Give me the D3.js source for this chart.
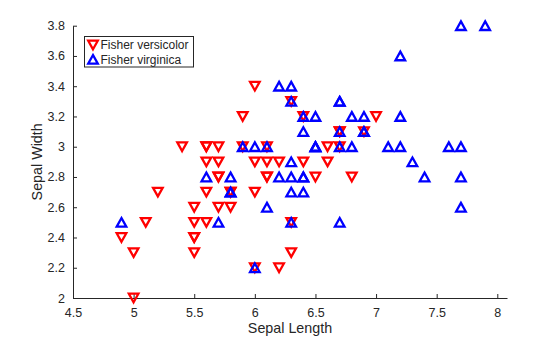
<!DOCTYPE html>
<html>
<head>
<meta charset="utf-8">
<script src="https://cdn.jsdelivr.net/npm/d3@7"></script>
<style>
  body { margin: 0; background: #fff; }
  text { font-family: "Liberation Sans", Arial, sans-serif; fill: #262626; }
</style>
</head>
<body>
<div id="chart"></div>
<script>
// Fisher iris: sepal length / sepal width
const versicolorLength = [7.0, 6.4, 6.9, 5.5, 6.5, 5.7, 6.3, 4.9, 6.6, 5.2, 5.0, 5.9, 6.0, 6.1, 5.6, 6.7, 5.6, 5.8, 6.2, 5.6, 5.9, 6.1, 6.3, 6.1, 6.4, 6.6, 6.8, 6.7, 6.0, 5.7, 5.5, 5.5, 5.8, 6.0, 5.4, 6.0, 6.7, 6.3, 5.6, 5.5, 5.5, 6.1, 5.8, 5.0, 5.6, 5.7, 5.7, 6.2, 5.1, 5.7];
const versicolorWidth = [3.2, 3.2, 3.1, 2.3, 2.8, 2.8, 3.3, 2.4, 2.9, 2.7, 2.0, 3.0, 2.2, 2.9, 2.9, 3.1, 3.0, 2.7, 2.2, 2.5, 3.2, 2.8, 2.5, 2.8, 2.9, 3.0, 2.8, 3.0, 2.9, 2.6, 2.4, 2.4, 2.7, 2.7, 3.0, 3.4, 3.1, 2.3, 3.0, 2.5, 2.6, 3.0, 2.6, 2.3, 2.7, 3.0, 2.9, 2.9, 2.5, 2.8];
const virginicaLength = [6.3, 5.8, 7.1, 6.3, 6.5, 7.6, 4.9, 7.3, 6.7, 7.2, 6.5, 6.4, 6.8, 5.7, 5.8, 6.4, 6.5, 7.7, 7.7, 6.0, 6.9, 5.6, 7.7, 6.3, 6.7, 7.2, 6.2, 6.1, 6.4, 7.2, 7.4, 7.9, 6.4, 6.3, 6.1, 7.7, 6.3, 6.4, 6.0, 6.9, 6.7, 6.9, 5.8, 6.8, 6.7, 6.7, 6.3, 6.5, 6.2, 5.9];
const virginicaWidth = [3.3, 2.7, 3.0, 2.9, 3.0, 3.0, 2.5, 2.9, 2.5, 3.6, 3.2, 2.7, 3.0, 2.5, 2.8, 3.2, 3.0, 3.8, 2.6, 2.2, 3.2, 2.8, 2.8, 2.7, 3.3, 3.2, 2.8, 3.0, 2.8, 3.0, 2.8, 3.8, 2.8, 2.8, 2.6, 3.0, 3.4, 3.1, 3.0, 3.1, 3.1, 3.1, 2.7, 3.2, 3.3, 3.0, 2.5, 3.0, 3.4, 3.0];

const xTicks = [4.5, 5, 5.5, 6, 6.5, 7, 7.5, 8];
const yTicks = [2, 2.2, 2.4, 2.6, 2.8, 3, 3.2, 3.4, 3.6, 3.8];

const series = [
  { name: "Fisher versicolor", xs: versicolorLength, ys: versicolorWidth, color: "#ff0000", up: false },
  { name: "Fisher virginica", xs: virginicaLength, ys: virginicaWidth, color: "#0000ff", up: true }
];

const width = 560;
const height = 337;
const margin = { top: 25.7, right: 53, bottom: 39, left: 73 };

const svg = d3.select("#chart").append("svg")
  .attr("width", width)
  .attr("height", height);

const x = d3.scaleLinear().domain([4.5, 8.08]).range([margin.left, width - margin.right]);
const y = d3.scaleLinear().domain([2, 3.8]).range([height - margin.bottom, margin.top]);

// triangle marker path, centred on its bounding box
function tri(up) {
  const w = 4.8, h = 4.3;
  return up
    ? `M0,${-h}L${w},${h}L${-w},${h}Z`
    : `M0,${h}L${w},${-h}L${-w},${-h}Z`;
}

const xAxis = svg.append("g")
  .attr("transform", `translate(0,${y(2)})`)
  .call(d3.axisBottom(x).tickValues(xTicks).tickSizeInner(-4).tickSizeOuter(0).tickPadding(10).tickFormat(d3.format("")));
const yAxis = svg.append("g")
  .attr("transform", `translate(${x(4.5)},0)`)
  .call(d3.axisLeft(y).tickValues(yTicks).tickSizeInner(-4).tickSizeOuter(0).tickPadding(8).tickFormat(d3.format("")));

[xAxis, yAxis].forEach(g => {
  g.select(".domain").attr("stroke", "#262626").attr("stroke-width", 1);
  g.selectAll(".tick line").attr("stroke", "#262626");
  g.selectAll(".tick text").attr("font-size", 12.5).attr("fill", "#262626")
    .style("font-family", "'Liberation Sans', Arial, sans-serif");
});

series.forEach(s => {
  svg.append("g").selectAll("path")
    .data(s.xs.map((v, i) => [v, s.ys[i]]))
    .join("path")
    .attr("d", tri(s.up))
    .attr("transform", d => `translate(${x(d[0])},${y(d[1])})`)
    .attr("fill", "none")
    .attr("stroke", s.color)
    .attr("stroke-width", 2.3);
});

svg.append("text")
  .attr("x", (x(4.5) + x(8.08)) / 2)
  .attr("y", 333)
  .attr("text-anchor", "middle")
  .attr("font-size", 14.3)
  .text("Sepal Length");

svg.append("text")
  .attr("transform", `translate(41.5,${(y(2) + y(3.8)) / 2}) rotate(-90)`)
  .attr("text-anchor", "middle")
  .attr("font-size", 14.3)
  .text("Sepal Width");

// legend
const legend = svg.append("g").attr("transform", "translate(84.5,36.5)");
legend.append("rect")
  .attr("width", 109).attr("height", 30.5)
  .attr("fill", "#fff").attr("stroke", "#262626").attr("stroke-width", 1);
series.forEach((s, i) => {
  const row = legend.append("g").attr("transform", `translate(8.5,${8.5 + i * 14.3})`);
  row.append("path")
    .attr("d", tri(s.up))
    .attr("fill", "none")
    .attr("stroke", s.color)
    .attr("stroke-width", 2.3);
  row.append("text")
    .attr("x", 7.5)
    .attr("y", 4.2)
    .attr("font-size", 12)
    .attr("fill", "#000")
    .text(s.name);
});
</script>
</body>
</html>
